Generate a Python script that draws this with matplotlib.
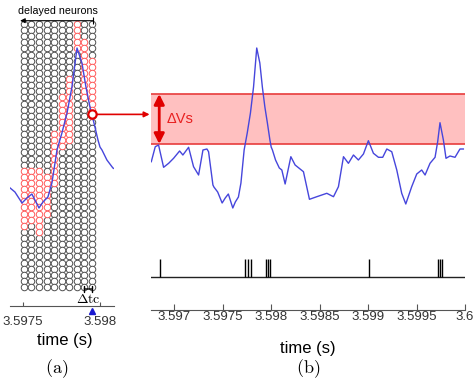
import numpy as np
import matplotlib
matplotlib.use("Agg")
import matplotlib.pyplot as plt
import matplotlib.transforms as mtransforms

plt.rcParams['font.family'] = ['Liberation Sans', 'DejaVu Sans']
plt.rcParams['mathtext.fontset'] = 'cm'

# membrane potential (time in s, potential in mV)
time_s = [3.596763, 3.596804, 3.596838, 3.596890, 3.596942, 3.596993, 3.597055,
          3.597089, 3.597148, 3.597199, 3.597251, 3.597296, 3.597337, 3.597354,
          3.597399, 3.597409, 3.597448, 3.597494, 3.597526, 3.597558, 3.597604,
          3.597630, 3.597662, 3.597688, 3.597708, 3.597721, 3.597753, 3.597786,
          3.597818, 3.597851, 3.597883, 3.597909, 3.597935, 3.597961, 3.597987,
          3.598000, 3.598013, 3.598045, 3.598084, 3.598110, 3.598144, 3.598203,
          3.598247, 3.598333, 3.598395, 3.598471, 3.598574, 3.598643, 3.598694,
          3.598746, 3.598797, 3.598849, 3.598900, 3.598952, 3.599003, 3.599055,
          3.599107, 3.599151, 3.599193, 3.599244, 3.599296, 3.599347, 3.599389,
          3.599450, 3.599502, 3.599553, 3.599588, 3.599639, 3.599691, 3.599718,
          3.599742, 3.599777, 3.599804, 3.599845, 3.599897, 3.599948, 3.599983]
volt_mv = [-61.77, -60.27, -60.10, -62.33, -61.93, -61.43, -60.70,
           -61.10, -60.33, -62.27, -63.10, -60.60, -60.50, -60.77,
           -64.10, -64.30, -64.80, -65.90, -65.40, -65.00, -66.40,
           -65.80, -65.30, -63.90, -61.90, -60.60, -58.90, -56.90,
           -54.30, -50.40, -51.90, -54.30, -56.30, -57.90, -59.60,
           -60.30, -60.60, -61.60, -62.40, -62.60, -64.00, -61.27,
           -62.10, -62.77, -65.53, -65.27, -64.93, -65.27, -64.27,
           -61.27, -61.93, -61.10, -61.60, -61.00, -59.67, -60.93,
           -61.33, -61.33, -60.50, -60.77, -62.60, -64.93, -66.00,
           -64.27, -63.00, -62.60, -63.10, -61.93, -61.33, -59.77,
           -57.87, -59.60, -61.43, -61.20, -61.33, -60.50, -60.50]

# spike times
spikes_s = [3.596856, 3.597732, 3.597763, 3.597794, 3.597948, 3.597969,
            3.597990, 3.599010, 3.599722, 3.599742, 3.599762]

# threshold band (Delta Vs)
band_low = -60.0
band_high = -55.0

# delayed neurons: column times and red (active) row ranges
col_times = [3.597506, 3.597555, 3.597604, 3.597653, 3.597702,
             3.597751, 3.597800, 3.597849, 3.597898, 3.597947]
n_rows = 44
red_from = [24, 24, 24, 25, 18, 12, 9, 0, 3, 6]
red_to = [33, 32, 34, 31, 26, 20, 19, 4, 12, 15]

ticks_a = [3.5975, 3.598]
ticklabels_a = ['3.5975', '3.598']
ticks_b = [3.597, 3.5975, 3.598, 3.5985, 3.599, 3.5995, 3.6]
ticklabels_b = ['3.597', '3.5975', '3.598', '3.5985', '3.599', '3.5995', '3.6']

W, H = 474, 379


def rect(x0, y0, x1, y1):
    # pixel box -> figure fraction
    return [x0 / W, 1 - y1 / H, (x1 - x0) / W, (y1 - y0) / H]


blue = '#4646dc'
grey = '#555555'
fig = plt.figure(figsize=(W / 100, H / 100), dpi=100)

ylim = (-76.2, -45.6)

# ---------- panel (a) ----------
ax_a = fig.add_axes(rect(10, 0, 114, 306))
ax_a.set_xlim(3.597416, 3.598091)
ax_a.set_ylim(*ylim)
for s in ['left', 'right', 'top']:
    ax_a.spines[s].set_visible(False)
ax_a.spines['bottom'].set_color(grey)
ax_a.set_yticks([])
ax_a.set_xticks(ticks_a)
ax_a.set_xticklabels(ticklabels_a)
ax_a.tick_params(axis='x', direction='in', length=3, color=grey,
                 labelcolor='#333333', labelsize=9.5, pad=7)

rows_v = np.linspace(-48.0, -74.3, n_rows)
for k, tc in enumerate(col_times):
    idx = np.arange(n_rows)
    red = (idx >= red_from[k]) & (idx <= red_to[k])
    ax_a.scatter(np.full(n_rows, tc)[~red], rows_v[~red], s=22, facecolors='white',
                 edgecolors='#505050', linewidths=0.7, zorder=2)
    ax_a.scatter(np.full(n_rows, tc)[red], rows_v[red], s=22, facecolors='white',
                 edgecolors='#ff5a5a', linewidths=0.7, zorder=2)

ax_a.plot(time_s, volt_mv, color=blue, lw=1, zorder=3)

v_mark = np.interp(col_times[-1], time_s, volt_mv)
ax_a.plot(col_times[-1], v_mark, 'o', ms=6, mfc='white', mec='#e00000', mew=1.6,
          zorder=5)

# delayed neurons arrow
dt = col_times[1] - col_times[0]
ax_a.annotate('', xy=(col_times[0] - 0.5 * dt, -47.67), xytext=(col_times[-1] + 0.2 * dt, -47.67),
              arrowprops=dict(arrowstyle='-|>', color='k', lw=0.8, mutation_scale=7,
                              shrinkA=0, shrinkB=0), annotation_clip=False)
ax_a.vlines(col_times[-1] + 0.2 * dt, -48.0, -47.3, color='k', lw=0.8)
ax_a.text((col_times[0] + col_times[-1]) / 2, -46.7, 'delayed neurons', fontsize=7.7,
          ha='center', va='center', clip_on=False)

# delta tc
ax_a.annotate('', xy=(col_times[8], -74.5), xytext=(col_times[9], -74.5),
              arrowprops=dict(arrowstyle='|-|,widthA=0.25,widthB=0.25', color='k', lw=1,
                              shrinkA=0, shrinkB=0), annotation_clip=False)
ax_a.text((col_times[8] + col_times[9]) / 2, -75.5, r'$\Delta\mathrm{tc}$', fontsize=10,
          ha='center', va='center')

# blue triangle under the axis
trans = mtransforms.blended_transform_factory(ax_a.transData, ax_a.transAxes)
ax_a.plot(col_times[-1], -5 / 306, marker='^', ms=5, color='#1a1ad0', transform=trans,
          clip_on=False)

ax_a.set_xlabel('time (s)', fontsize=12, va='center')
ax_a.xaxis.set_label_coords(0.53, -34 / 306)

# ---------- panel (b) ----------
ax_b = fig.add_axes(rect(151, 0, 465, 306))
ax_b.set_xlim(3.59676, 3.6)
ax_b.set_ylim(*ylim)
ax_b.axis('off')
ax_b.axhspan(band_low, band_high, color='#ffc0c0', lw=0, zorder=0)
ax_b.axhline(band_low, color='#e83c3c', lw=1.2, zorder=1)
ax_b.axhline(band_high, color='#e83c3c', lw=1.2, zorder=1)
ax_b.plot(time_s, volt_mv, color=blue, lw=1, zorder=3)

t_arrow = 3.596845
ax_b.annotate('', xy=(t_arrow, band_high), xytext=(t_arrow, band_low),
              arrowprops=dict(arrowstyle='<|-|>,head_length=0.6,head_width=0.3', color='#e00000',
                              lw=2, mutation_scale=10, shrinkA=0, shrinkB=0))
ax_b.text(3.596918, -57.5, 'ΔVs', color='#e82020', fontsize=10.5, va='center', ha='left')

# arrow from marked neuron to band
ax_b.annotate('', xy=(3.59676, v_mark), xycoords='data',
              xytext=(col_times[-1], v_mark), textcoords=ax_a.transData,
              arrowprops=dict(arrowstyle='-|>', color='#e00000', lw=1.2, mutation_scale=8,
                              shrinkA=4, shrinkB=1), annotation_clip=False)

# raster + time axis
ax_r = fig.add_axes(rect(151, 250, 465, 310))
ax_r.set_xlim(3.59676, 3.6)
ax_r.set_ylim(0, 1)
for s in ['left', 'right', 'top']:
    ax_r.spines[s].set_visible(False)
ax_r.spines['bottom'].set_color(grey)
ax_r.set_yticks([])
ax_r.axhline(0.55, color='#222222', lw=1)
ax_r.vlines(spikes_s, 0.55, 0.85, color='k', lw=1)
ax_r.set_xticks(ticks_b)
ax_r.set_xticklabels(ticklabels_b)
ax_r.tick_params(axis='x', direction='in', length=4, color=grey,
                 labelcolor='#333333', labelsize=9.5, pad=1)
ax_r.set_xlabel('time (s)', fontsize=12, va='center')
ax_r.xaxis.set_label_coords(0.5, -38 / 60)

fig.text(57 / W, 1 - 369 / H, r'$\mathrm{(a)}$', fontsize=13, ha='center', va='center')
fig.text(308 / W, 1 - 369 / H, r'$\mathrm{(b)}$', fontsize=13, ha='center', va='center')

fig.savefig('out.png', dpi=100)
